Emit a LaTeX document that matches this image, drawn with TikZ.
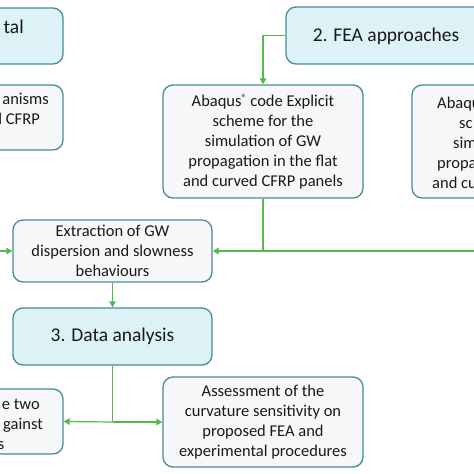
\documentclass[tikz,border=0pt]{standalone}
\usepackage{fontspec}
\setmainfont{Carlito}
\usetikzlibrary{arrows.meta}
\definecolor{hdrfill}{RGB}{220,242,247}
\definecolor{boxfill}{RGB}{246,247,248}
\definecolor{edgeteal}{RGB}{72,140,150}
\definecolor{arrgreen}{RGB}{82,186,74}
\newcommand{\regmark}{{\fontsize{10}{10}\selectfont\raisebox{5pt}{®}}}
\tikzset{
  hdr/.style={draw=edgeteal, fill=hdrfill, line width=1.3pt, rounded corners=10pt,
    inner sep=0pt, font=\fontsize{19.5}{22}\selectfont, text=black!90},
  infobox/.style={draw=edgeteal, fill=boxfill, line width=1.3pt, rounded corners=10pt,
    inner sep=0pt, align=center, font=\fontsize{16.5}{20}\selectfont, text=black!90},
  frag/.style={inner sep=0pt, font=\fontsize{16.5}{20}\selectfont, text=black!90},
  fraghdr/.style={inner sep=0pt, font=\fontsize{19.5}{22}\selectfont, text=black!90},
  link/.style={draw=arrgreen, line width=1.2pt},
  arr/.style={link, -{Triangle[width=6.5pt,length=6pt]}}
}
\begin{document}
\begin{tikzpicture}[x=1pt,y=-1pt]
\useasboundingbox (0,0) rectangle (474,474);
\clip (0,0) rectangle (474,474);
% boxes
\node[hdr, minimum width=123pt, minimum height=56pt] (exp) at (1.5,36) {};
\node[infobox, minimum width=123pt, minimum height=65pt] (mech) at (1.5,117.5) {};
\node[hdr, minimum width=274pt, minimum height=57pt] (fea) at (423,35.5) {};
\node[infobox, minimum width=200pt, minimum height=113pt] (abq1) at (263,141.5)
  {Abaqus\regmark{} code Explicit\\scheme for the\\simulation of GW\\propagation in the flat\\and curved CFRP panels};
\node[infobox, minimum width=200pt, minimum height=113pt] (abq2) at (512,141.5) {};
\node[infobox, minimum width=199pt, minimum height=62pt] (ext) at (112.5,251)
  {Extraction of GW\\dispersion and slowness\\behaviours};
\node[hdr, minimum width=199pt, minimum height=57pt] (data) at (112.5,336.5) {3. Data analysis};
\node[infobox, minimum width=203pt, minimum height=65pt] (cmp) at (-38.5,421.5) {};
\node[infobox, minimum width=200pt, minimum height=90pt] (ass) at (263,422)
  {Assessment of the\\curvature sensitivity on\\proposed FEA and\\experimental procedures};
% visible text fragments of cut boxes
\node[fraghdr, anchor=base east] (expT) at (24,33) {tal};
\node[hdr, draw=none, fill=none] (feaT) at (386,36) {2. FEA approaches};
\node[frag, anchor=base east] (mechA) at (49,104) {anisms};
\node[frag, anchor=base east] (mechB) at (40,124) {l CFRP};
\node[frag, anchor=base east] (cmpA) at (40,409) {e two};
\node[frag, anchor=base east] (cmpB) at (43,429) {gainst};
\node[frag, anchor=base east] (cmpC) at (4.5,449) {s};
\node[frag, anchor=base west] (abqA) at (437,108) {Abaqu};
\node[frag, anchor=base west] (abqB) at (459,128) {sc};
\node[frag, anchor=base west] (abqC) at (453,148) {sim};
\node[frag, anchor=base west] (abqD) at (437,168) {propa};
\node[frag, anchor=base west] (abqE) at (432,188) {and cu};
% connectors
\coordinate (Rin) at (480,251);
\coordinate (Lin) at (-5,251);
\coordinate (split) at (112.5,422);
\draw[arr] (fea.west) -| (abq1.north);
\draw[link] (abq1.south) -- (abq1.south |- ext.east);
\draw[arr] (Rin) -- (ext.east);
\draw[arr] (Lin) -- (ext.west);
\draw[arr] (ext.south) -- (data.north);
\draw[link] (data.south) -- (split);
\draw[arr] (split) -- (cmp.east);
\draw[arr] (split) -- (ass.west);
\end{tikzpicture}
\end{document}
